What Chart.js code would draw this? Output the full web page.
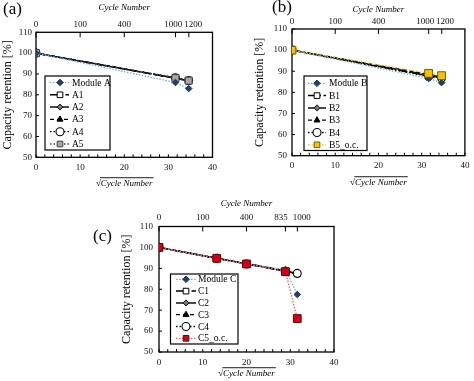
<!DOCTYPE html>
<html><head><meta charset="utf-8">
<script src="https://cdn.jsdelivr.net/npm/chart.js@4.4.1/dist/chart.umd.min.js"></script>
<style>
html,body{margin:0;padding:0;background:#fff;}
body{width:474px;height:381px;position:relative;overflow:hidden;}
canvas{position:absolute;}
</style></head>
<body>
<canvas id="ca" width="237" height="190" style="left:0px;top:0px;width:237px;height:190px"></canvas>
<canvas id="cb" width="237" height="190" style="left:237px;top:0px;width:237px;height:190px"></canvas>
<canvas id="cc" width="370" height="191" style="left:0px;top:190px;width:370px;height:191px"></canvas>
<script>
// ---------- data ----------
// (a)
const xA = [0, 31.6, 34.6];
const moduleA = [100, 85.9, 83.0];
const a1 = [100, 88.0, 86.8];
const a2 = [100, 87.9, 86.7];
const a3 = [100, 88.0, 86.8];
const a4 = [100, 88.2, 86.9];
const a5 = [100, 88.0, 86.8];
const topTicksA = [0, 100, 400, 1000, 1200];
const labelsA = ['Module A', 'A1', 'A2', 'A3', 'A4', 'A5'];
// (b)
const xB = [0, 31.6, 34.6];
const moduleB = [100, 86.6, 84.6];
const b1 = [100, 87.8, 87.0];
const b2 = [100, 88.2, 87.3];
const b3 = [100, 88.5, 87.6];
const b4 = [100, 87.5, 86.8];
const b5 = [100, 89.0, 87.9];
const topTicksB = [0, 100, 400, 1000, 1200];
const labelsB = ['Module B', 'B1', 'B2', 'B3', 'B4', 'B5_o.c.'];
// (c)
const xC = [0, 13.2, 20.0, 28.9, 31.6];
const moduleC = [100, 94.6, 92.0, 89.4, 77.5];
const c1 = [100, 94.8, 92.1, 88.6, 87.4];
const c2 = [100, 94.8, 92.3, 88.8, 87.5];
const c3 = [100, 94.7, 92.2, 88.7, 87.3];
const c4 = [100, 94.8, 92.1, 88.6, 87.6];
const c5 = [100, 94.8, 92.1, 88.4, 66.0];
const topTicksC = [0, 100, 400, 835, 1000];
const labelsC = ['Module C', 'C1', 'C2', 'C3', 'C4', 'C5_o.c.'];

const FONT = "'Liberation Serif', 'Times New Roman', serif";

// ---------- styles ----------
const stMod = {line:'#6fa8dc', lw:1.2, dash:[1.5,1.5], ps:'rectRot', r:3.3, fill:'#1f3d6e', stroke:'#1f3d6e', bw:1};
const st1 = {line:'#000', lw:1.5, dash:[9,2.5,1.5,2.5], ps:'rect', r:4.2, fill:'#fff', stroke:'#000', bw:1};
const st2 = {line:'#111', lw:1.5, dash:[9,3], ps:'rectRot', r:3, fill:'#777', stroke:'#111', bw:1};
const st3 = {line:'#000', lw:1.3, dash:[4,3], ps:'triangle', r:3.5, fill:'#000', stroke:'#000', bw:1};
const st4 = {line:'#000', lw:1.3, dash:[1.5,2], ps:'circle', r:4, fill:'#fff', stroke:'#000', bw:1.1};
const stA5 = {line:'#444', lw:1.3, dash:[1.5,2], ps:'rect', r:5, fill:'#a6a6a6', stroke:'#404040', bw:1};
const stB5 = {line:'#f0c000', lw:1.3, dash:[1.5,2], ps:'rect', r:5.5, fill:'#f5c400', stroke:'#7a5c00', bw:1};
const stC5 = {line:'#ff5a5a', lw:1.3, dash:[1.5,1.5], ps:'rect', r:5.5, fill:'#d40018', stroke:'#6a0000', bw:1};

function ds(label, xs, ys, st, order) {
  return {
    label, data: xs.map((x, i) => ({x, y: ys[i]})),
    borderColor: st.line, borderWidth: st.lw, borderDash: st.dash,
    pointStyle: st.ps, pointRadius: st.r, pointHoverRadius: st.r,
    pointBackgroundColor: st.fill, pointBorderColor: st.stroke, pointBorderWidth: st.bw,
    showLine: true, fill: false, tension: 0, order, _st: st
  };
}

function drawMarker(ctx, st, x, y) {
  const r = st.r;
  ctx.save();
  ctx.fillStyle = st.fill; ctx.strokeStyle = st.stroke; ctx.lineWidth = st.bw; ctx.setLineDash([]);
  ctx.beginPath();
  if (st.ps === 'circle') ctx.arc(x, y, r, 0, Math.PI * 2);
  else if (st.ps === 'rect') { const s = r * Math.SQRT1_2; ctx.rect(x - s, y - s, 2 * s, 2 * s); }
  else if (st.ps === 'rectRot') { ctx.moveTo(x, y - r); ctx.lineTo(x + r, y); ctx.lineTo(x, y + r); ctx.lineTo(x - r, y); ctx.closePath(); }
  else if (st.ps === 'triangle') { ctx.moveTo(x, y - r); ctx.lineTo(x + r * 0.866, y + r * 0.5); ctx.lineTo(x - r * 0.866, y + r * 0.5); ctx.closePath(); }
  ctx.fill(); ctx.stroke();
  ctx.restore();
}

const deco = {
  id: 'deco',
  beforeDatasetsDraw(chart, args, o) {
    const {ctx, chartArea: {left, right, top, bottom}} = chart;
    const x = chart.scales.x, y = chart.scales.y, x2 = chart.scales.x2;
    ctx.save();
    ctx.strokeStyle = '#000'; ctx.lineWidth = 1.3; ctx.setLineDash([]);
    ctx.strokeRect(left, top, right - left, bottom - top);
    ctx.lineWidth = 1;
    ctx.beginPath();
    for (let v = 0; v <= 40; v += 2) { const px = x.getPixelForValue(v); ctx.moveTo(px, bottom); ctx.lineTo(px, bottom - 3); }
    y.ticks.forEach(t => { const py = y.getPixelForValue(t.value); ctx.moveTo(left, py); ctx.lineTo(left + 3, py); });
    x2.ticks.forEach(t => { const px = x2.getPixelForValue(t.value); ctx.moveTo(px, top); ctx.lineTo(px, top + 5); });
    ctx.stroke();
    ctx.restore();
  },
  afterDraw(chart, args, o) {
    const ctx = chart.ctx;
    ctx.save();
    // sqrt overline on bottom title
    const x = chart.scales.x;
    const tf = x.options.title.font;
    ctx.font = 'italic ' + tf.size + 'px ' + FONT;
    const txt = x.options.title.text;
    const tw = ctx.measureText(txt).width;
    const sw = ctx.measureText('\u221A').width;
    const cx = (x.left + x.right) / 2;
    const ty = x.bottom - tf.size * 1.2 / 2 - x.options.title.padding.bottom;
    const oy = ty - tf.size * 0.62;
    ctx.strokeStyle = '#000'; ctx.lineWidth = 0.9; ctx.setLineDash([]);
    ctx.beginPath();
    ctx.moveTo(cx - tw / 2 + sw * 0.85, oy); ctx.lineTo(cx + tw / 2 + 1, oy);
    ctx.stroke();
    // panel letter
    ctx.fillStyle = '#000';
    ctx.font = '17px ' + FONT;
    ctx.textBaseline = 'middle'; ctx.textAlign = 'left';
    ctx.fillText(o.letter, o.lx, o.ly);
    // legend
    const L = o.leg;
    ctx.fillStyle = '#fff';
    ctx.fillRect(L.x1, L.y1, L.x2 - L.x1, L.y2 - L.y1);
    ctx.strokeStyle = '#000'; ctx.lineWidth = 1.2;
    ctx.strokeRect(L.x1, L.y1, L.x2 - L.x1, L.y2 - L.y1);
    chart.data.datasets.forEach((d, i) => {
      const st = d._st;
      const yy = L.y0 + i * L.dy;
      ctx.save();
      ctx.strokeStyle = st.line; ctx.lineWidth = st.lw; ctx.setLineDash(st.dash);
      ctx.beginPath(); ctx.moveTo(L.lx1, yy); ctx.lineTo(L.lx2, yy); ctx.stroke();
      ctx.restore();
      drawMarker(ctx, Object.assign({}, st, {r: Math.min(st.r, 4)}), L.mx, yy);
      ctx.fillStyle = '#000';
      ctx.font = '9.5px ' + FONT;
      ctx.textBaseline = 'middle'; ctx.textAlign = 'left';
      ctx.fillText(d.label, L.tx, yy + 0.5);
    });
    ctx.restore();
  }
};

function makeChart(id, g) {
  const tickFont = {family: FONT, size: 9};
  return new Chart(document.getElementById(id), {
    type: 'scatter',
    data: {datasets: g.datasets},
    options: {
      responsive: false, animation: false, devicePixelRatio: 1,
      events: [],
      layout: {padding: {left: g.padL, right: g.padR, top: 0, bottom: 0}},
      plugins: {legend: {display: false}, tooltip: {enabled: false},
        deco: {letter: g.letter, lx: g.lx, ly: g.ly, leg: g.leg}},
      scales: {
        x: {type: 'linear', position: 'bottom', min: 0, max: 40,
          ticks: {stepSize: 10, font: tickFont, color: '#111', padding: g.xPad, maxRotation: 0},
          grid: {display: false, drawTicks: false}, border: {display: false},
          title: {display: true, text: '\u221ACycle Number', color: '#000',
            font: {family: FONT, size: 9, style: 'italic'}, padding: {top: 0, bottom: g.xtPad}},
          afterFit(s) { s.height = g.bottomH; }
        },
        x2: {type: 'linear', position: 'top', min: 0, max: 40,
          afterBuildTicks(s) { s.ticks = g.top.map(v => ({value: Math.sqrt(v)})); },
          ticks: {autoSkip: false, maxRotation: 0, font: tickFont, color: '#111', padding: g.x2Pad,
            callback: (v, i) => g.topSpace[i].pre + String(g.top[i]) + g.topSpace[i].post},
          grid: {display: false, drawTicks: false}, border: {display: false},
          title: {display: true, text: 'Cycle Number', color: '#000',
            font: {family: FONT, size: 9, style: 'italic'}, padding: {top: g.x2tPad, bottom: 0}},
          afterFit(s) { s.height = g.topH; }
        },
        y: {type: 'linear', position: 'left', min: 50, max: 110,
          ticks: {stepSize: 10, font: tickFont, color: '#111', padding: g.yPad},
          grid: {display: false, drawTicks: false}, border: {display: false},
          title: {display: true, text: 'Capacity retention [%]', color: '#000',
            font: {family: FONT, size: 12}, padding: {top: 1, bottom: 0}},
          afterFit(s) { s.width = g.yW; }
        }
      }
    },
    plugins: [deco]
  });
}

const sp = (pre, post) => ({pre: ' '.repeat(pre), post: ' '.repeat(post)});

makeChart('ca', {
  datasets: [
    ds(labelsA[0], xA, moduleA, stMod, 0),
    ds(labelsA[1], xA, a1, st1, 5),
    ds(labelsA[2], xA, a2, st2, 4),
    ds(labelsA[3], xA, a3, st3, 3),
    ds(labelsA[4], xA, a4, st4, 2),
    ds(labelsA[5], xA, a5, stA5, 1)
  ],
  padL: 0, padR: 24.5, yW: 36, topH: 32.3, bottomH: 32.7,
  xPad: 5, xtPad: 1.3, x2Pad: 2.6, x2tPad: 2.6, yPad: 4,
  top: topTicksA, topSpace: [sp(0,0), sp(0,0), sp(0,0), sp(0,2), sp(4,0)],
  letter: '(a)', lx: 3, ly: 10,
  leg: {x1: 45, y1: 76, x2: 110, y2: 150, y0: 82.5, dy: 12.3, lx1: 50, lx2: 69, mx: 60, tx: 72}
});

makeChart('cb', {
  datasets: [
    ds(labelsB[0], xB, moduleB, stMod, 1),
    ds(labelsB[1], xB, b1, st1, 5),
    ds(labelsB[2], xB, b2, st2, 4),
    ds(labelsB[3], xB, b3, st3, 3),
    ds(labelsB[4], xB, b4, st4, 2),
    ds(labelsB[5], xB, b5, stB5, 0)
  ],
  padL: 15, padR: 6, yW: 40, topH: 29, bottomH: 34.3,
  xPad: 4.6, xtPad: 2.3, x2Pad: 1.5, x2tPad: 4.6, yPad: 5,
  top: topTicksB, topSpace: [sp(0,0), sp(0,0), sp(0,0), sp(0,3), sp(3,0)],
  letter: '(b)', lx: 35, ly: 8,
  leg: {x1: 67, y1: 76, x2: 130, y2: 150.5, y0: 83.3, dy: 12.3, lx1: 71, lx2: 89, mx: 80, tx: 92}
});

makeChart('cc', {
  datasets: [
    ds(labelsC[0], xC, moduleC, stMod, 1),
    ds(labelsC[1], xC, c1, st1, 5),
    ds(labelsC[2], xC, c2, st2, 4),
    ds(labelsC[3], xC, c3, st3, 3),
    ds(labelsC[4], xC, c4, st4, 2),
    ds(labelsC[5], xC, c5, stC5, 0)
  ],
  padL: 119, padR: 36, yW: 40, topH: 36.5, bottomH: 29,
  xPad: 4.9, xtPad: 2.3, x2Pad: 3.8, x2tPad: 7.9, yPad: 6,
  top: topTicksC, topSpace: [sp(0,0), sp(0,0), sp(0,0), sp(0,4), sp(4,0)],
  letter: '(c)', lx: 93, ly: 47,
  leg: {x1: 170.5, y1: 84, x2: 238, y2: 154, y0: 89.3, dy: 11.8, lx1: 176, lx2: 196, mx: 186, tx: 198}
});
</script>
</body></html>
